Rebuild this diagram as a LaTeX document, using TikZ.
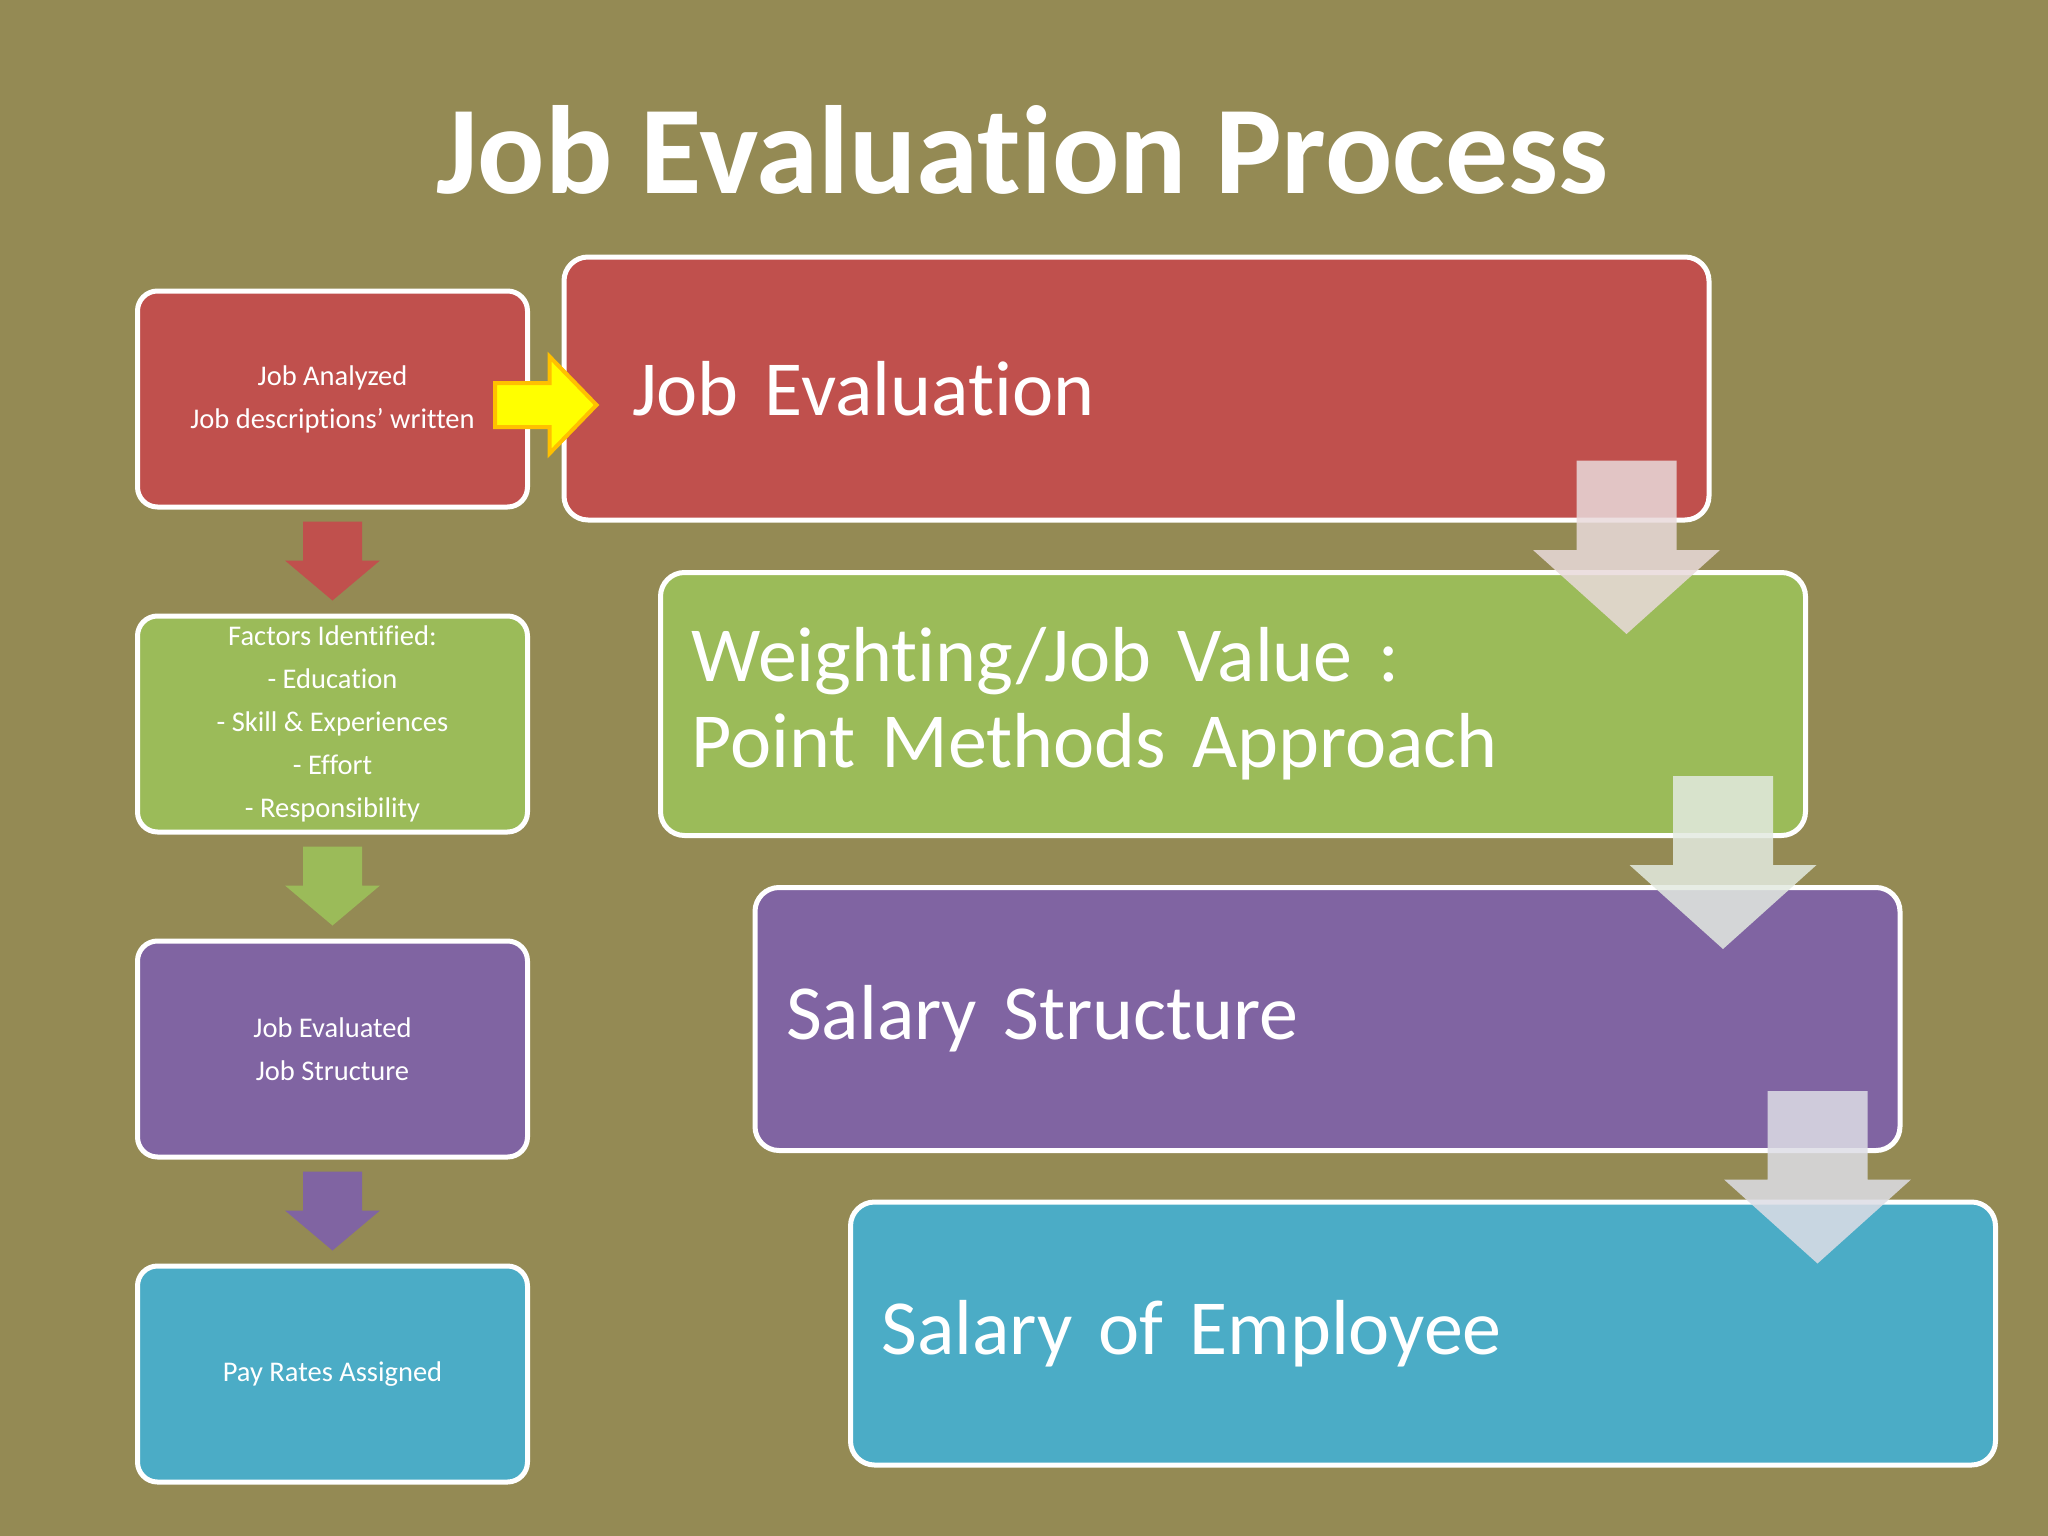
\documentclass[tikz,border=0pt]{standalone}
\usepackage{fontspec}
\setmainfont{Carlito}[Ligatures=NoCommon]
\usepackage{tikz}
\usetikzlibrary{calc,positioning}

\definecolor{olivebg}{HTML}{948A54}
\definecolor{jobred}{HTML}{C0504D}
\definecolor{jobgreen}{HTML}{9BBB59}
\definecolor{jobpurple}{HTML}{8064A2}
\definecolor{jobaqua}{HTML}{4BACC6}
\definecolor{redtint}{HTML}{E9DADB}
\definecolor{greentint}{HTML}{E3EBE1}
\definecolor{purpletint}{HTML}{DEDEE6}
\definecolor{arrowyellow}{HTML}{FFFF00}
\definecolor{arroworange}{HTML}{FFC000}

% block arrow pointing down: style, top point, tip point, half shaft, half head, head length
\newcommand{\downblock}[6]{%
	\path[#1] ($(#2)+(-#4,0)$) -- ($(#2)+(#4,0)$) -- ($(#3)+(#4,-#6)$) -- ($(#3)+(#5,-#6)$)
		-- (#3) -- ($(#3)+(-#5,-#6)$) -- ($(#3)+(-#4,-#6)$) -- cycle;
}

\begin{document}
\begin{tikzpicture}[x=1pt, y=-1pt, node distance=104pt,
	smallbox/.style={draw=white, line width=5pt, rounded corners=20pt, text=white,
		minimum width=390pt, minimum height=216pt, align=center,
		font=\fontsize{28.5}{43}\selectfont},
	bigbox/.style={draw=white, line width=5pt, rounded corners=24pt, text=white,
		minimum width=1145pt, minimum height=263pt, inner xsep=31pt,
		text width=1083pt, align=left, font=\fontsize{78}{86}\selectfont},
	small arrow/.style={fill=#1},
	big arrow/.style={fill=#1, fill opacity=0.85}]

	\fill[olivebg] (0,0) rectangle (2048,1536);
	\useasboundingbox (0,0) rectangle (2048,1536);

	\node[text=white, font=\fontsize{125.5}{150}\selectfont\bfseries] (title) at (1022,150) {Job Evaluation Process};

	% left column
	\node[smallbox, fill=jobred] (jan) at (332.5,399) {Job Analyzed\\Job descriptions’ written};
	\node[smallbox, fill=jobgreen, below=of jan] (fid) {Factors Identified:\\- Education\\- Skill \& Experiences\\- Effort\\- Responsibility};
	\node[smallbox, fill=jobpurple, below=of fid] (jev) {Job Evaluated\\Job Structure};
	\node[smallbox, fill=jobaqua, below=of jev] (pay) {Pay Rates Assigned};

	% right column
	\node[bigbox, fill=jobred, inner xsep=68pt, text width=1009pt] (jeval) at (1136.5,388.5) {Job Evaluation};
	\node[bigbox, fill=jobgreen] (wval) at (1233,704) {Weighting/Job Value :\\Point Methods Approach};
	\node[bigbox, fill=jobpurple] (sstr) at (1327.5,1019) {Salary Structure};
	\node[bigbox, fill=jobaqua] (semp) at (1423,1333.5) {Salary of Employee};

	% small arrows
	\downblock{small arrow=jobred}{$(jan.south)+(0,12)$}{$(fid.north)+(0,-13)$}{29.5}{47.5}{40}
	\downblock{small arrow=jobgreen}{$(fid.south)+(0,12)$}{$(jev.north)+(0,-13)$}{29.5}{47.5}{40}
	\downblock{small arrow=jobpurple}{$(jev.south)+(0,12)$}{$(pay.north)+(0,-13)$}{29.5}{47.5}{40}

	% yellow arrow
	\coordinate (ys) at ($(jan.east)+(-35,6)$);
	\coordinate (yt) at ($(jeval.west |- ys)+(35,0)$);
	\draw[fill=arrowyellow, draw=arroworange, line width=4pt, line join=miter]
		($(ys)+(0,-22)$) -- ($(yt)+(-47,-22)$) -- ($(yt)+(-47,-48.5)$) -- (yt)
		-- ($(yt)+(-47,48.5)$) -- ($(yt)+(-47,22)$) -- ($(ys)+(0,22)$) -- cycle;

	% big arrows
	\coordinate (b1) at ($(jeval.south east)+(-85,-62)$);
	\coordinate (b2) at ($(wval.south east)+(-85,-62)$);
	\coordinate (b3) at ($(sstr.south east)+(-85,-62)$);
	\downblock{big arrow=redtint}{b1}{$(b1 |- wval.north)+(0,64)$}{50}{93.5}{84}
	\downblock{big arrow=greentint}{b2}{$(b2 |- sstr.north)+(0,64)$}{50}{93.5}{84}
	\downblock{big arrow=purpletint}{b3}{$(b3 |- semp.north)+(0,64)$}{50}{93.5}{84}
\end{tikzpicture}
\end{document}
